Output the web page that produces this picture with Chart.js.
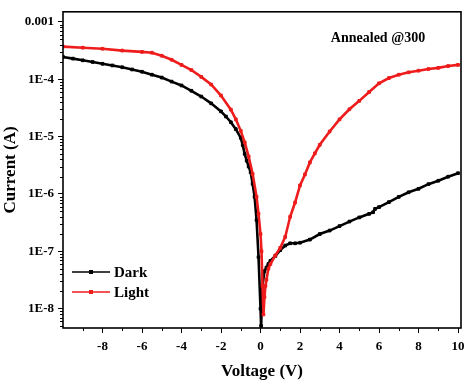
<!DOCTYPE html>
<html>
<head>
<meta charset="utf-8">
<script src="https://cdn.jsdelivr.net/npm/chart.js@4"></script>
<style>
  html, body { margin: 0; padding: 0; background: #fff; }
</style>
</head>
<body>
<canvas id="myChart" width="474" height="386"></canvas>
<script>
// ======= DATA ==========
const darkVoltage = [-10, -9.5, -9, -8.5, -8, -7.5, -7, -6.5, -6, -5.5, -5, -4.5, -4, -3.5, -3, -2.5, -2, -1.75, -1.5, -1.25,
  -1, -0.9, -0.8, -0.7, -0.6, -0.5, -0.4, -0.3, -0.2, -0.1, 0, 0.03, 0.1, 0.2, 0.3, 0.4, 0.5, 0.75,
  1, 1.25, 1.5, 1.75, 2, 2.5, 3, 3.5, 4, 4.5, 5, 5.5, 5.7, 5.8, 6, 6.5, 7, 7.5, 8, 8.5, 9, 9.5, 10];
const darkCurrent = [2.45e-4, 2.29e-4, 2.14e-4, 2.0e-4, 1.86e-4, 1.74e-4, 1.62e-4, 1.48e-4, 1.35e-4, 1.2e-4, 1.07e-4, 9.1e-5, 7.8e-5, 6.3e-5, 5.0e-5, 3.8e-5, 2.75e-5, 2.24e-5, 1.78e-5, 1.35e-5,
  9.5e-6, 7.1e-6, 5.0e-6, 3.8e-6, 3.0e-6, 2.4e-6, 1.5e-6, 8.9e-7, 3.5e-7, 7.9e-8, 1.0e-8, 5.0e-9, 2.5e-8, 4.5e-8, 5.2e-8, 6.0e-8, 6.8e-8, 8.3e-8,
  1.05e-7, 1.26e-7, 1.38e-7, 1.38e-7, 1.41e-7, 1.6e-7, 2.0e-7, 2.3e-7, 2.75e-7, 3.3e-7, 3.9e-7, 4.5e-7, 4.8e-7, 5.5e-7, 5.9e-7, 7.2e-7, 8.9e-7, 1.07e-6, 1.23e-6, 1.48e-6, 1.7e-6, 2.0e-6, 2.3e-6];

const lightVoltage = [-10, -9, -8, -7, -6, -5.5, -5, -4.5, -4, -3.5, -3, -2.5, -2, -1.5, -1.25, -1, -0.8, -0.6, -0.4, -0.2, -0.1,
  0, 0.05, 0.1, 0.15, 0.2, 0.25, 0.3, 0.4, 0.5, 0.75, 1, 1.25, 1.5, 1.75, 2, 2.25, 2.5, 2.75, 3, 3.5,
  4, 4.5, 5, 5.5, 6, 6.5, 7, 7.5, 8, 8.5, 9, 9.5, 10];
const lightCurrent = [3.7e-4, 3.55e-4, 3.4e-4, 3.16e-4, 3.0e-4, 2.9e-4, 2.57e-4, 2.19e-4, 1.78e-4, 1.45e-4, 1.1e-4, 8.1e-5, 5.2e-5, 2.95e-5, 2.0e-5, 1.26e-5, 7.9e-6, 4.5e-6, 2.24e-6, 8.9e-7, 4.5e-7,
  2.0e-7, 1.0e-7, 2.5e-8, 7.9e-9, 1.6e-8, 2.5e-8, 3.2e-8, 5.0e-8, 6.0e-8, 8.5e-8, 1.15e-7, 1.78e-7, 4.0e-7, 7.1e-7, 1.41e-6, 2.19e-6, 3.55e-6, 5.1e-6, 7.2e-6, 1.23e-5,
  2.0e-5, 3.0e-5, 4.2e-5, 6.0e-5, 8.5e-5, 1.05e-4, 1.2e-4, 1.32e-4, 1.41e-4, 1.51e-4, 1.58e-4, 1.7e-4, 1.78e-4];

const yTickValues = [1e-8, 1e-7, 1e-6, 1e-5, 1e-4, 1e-3];
const yTickLabels = ["1E-8", "1E-7", "1E-6", "1E-5", "1E-4", "0.001"];
const xTickValues = [-8, -6, -4, -2, 0, 2, 4, 6, 8, 10];

const FONT = "'Liberation Serif', 'Times New Roman', serif";
const RED = "#ee1c1c";

function toPoints(xs, ys) {
  return xs.map((x, i) => ({ x: x, y: ys[i] }));
}

// ======= FRAME, MINOR TICKS, LEGEND, NOTE ==========
const decorations = {
  id: "decorations",
  afterDraw(chart) {
    const ctx = chart.ctx;
    const a = chart.chartArea;
    const x = chart.scales.x;
    const y = chart.scales.y;
    ctx.save();
    ctx.strokeStyle = "#000";
    ctx.lineWidth = 1;
    ctx.beginPath();
    for (let e = -9; e <= -3; e++) {
      for (let m = 2; m <= 9; m++) {
        const v = m * Math.pow(10, e);
        if (v < y.min || v > y.max) continue;
        const py = Math.round(y.getPixelForValue(v)) + 0.5;
        ctx.moveTo(a.left - 3, py);
        ctx.lineTo(a.left, py);
      }
    }
    for (let v = -9; v <= 9; v += 2) {
      const px = Math.round(x.getPixelForValue(v)) + 0.5;
      ctx.moveTo(px, a.bottom);
      ctx.lineTo(px, a.bottom + 3);
    }
    ctx.stroke();

    ctx.lineWidth = 1.6;
    ctx.strokeRect(a.left, a.top, a.right - a.left, a.bottom - a.top);

    // legend
    const order = [1, 0];
    order.forEach(function(idx, row) {
      const ds = chart.data.datasets[idx];
      const ly = a.bottom - 56 + row * 20;
      ctx.strokeStyle = ds.borderColor;
      ctx.lineWidth = 1.6;
      ctx.beginPath();
      ctx.moveTo(a.left + 9, ly);
      ctx.lineTo(a.left + 47, ly);
      ctx.stroke();
      ctx.fillStyle = ds.borderColor;
      ctx.fillRect(a.left + 26, ly - 2, 4, 4);
      ctx.fillStyle = "#000";
      ctx.font = "bold 15px " + FONT;
      ctx.textBaseline = "middle";
      ctx.textAlign = "left";
      ctx.fillText(ds.label, a.left + 51, ly + 1);
    });

    ctx.font = "bold 14px " + FONT;
    ctx.textAlign = "center";
    ctx.textBaseline = "middle";
    ctx.fillStyle = "#000";
    ctx.fillText("Annealed @300", a.right - 83, a.top + 27);
    ctx.restore();
  }
};

// ======= CHART ==========
const ctx = document.getElementById("myChart").getContext("2d");

const chart = new Chart(ctx, {
  type: "line",
  data: {
    datasets: [
      {
        label: "Light",
        data: toPoints(lightVoltage, lightCurrent),
        borderColor: RED,
        backgroundColor: RED,
        borderWidth: 2.6,
        pointStyle: "rect",
        pointRadius: 1.9,
        pointBorderWidth: 1,
        order: 0
      },
      {
        label: "Dark",
        data: toPoints(darkVoltage, darkCurrent),
        borderColor: "#000",
        backgroundColor: "#000",
        borderWidth: 2.6,
        pointStyle: "rect",
        pointRadius: 1.9,
        pointBorderWidth: 1,
        order: 1
      }
    ]
  },
  options: {
    responsive: false,
    animation: false,
    layout: { padding: { left: 0, top: 10, right: 13, bottom: 0 } },
    plugins: {
      legend: { display: false },
      tooltip: { enabled: false }
    },
    scales: {
      x: {
        type: "linear",
        min: -10,
        max: 10.15,
        afterBuildTicks(scale) {
          scale.ticks = xTickValues.map(v => ({ value: v }));
        },
        afterFit(scale) {
          scale.height = 58;
        },
        border: { display: false },
        grid: { drawOnChartArea: false, tickLength: 5, color: "#000", lineWidth: 1 },
        ticks: {
          color: "#000",
          padding: 6,
          maxRotation: 0,
          font: { family: FONT, size: 13, weight: "bold" },
          callback: v => v
        },
        title: {
          display: true,
          text: "Voltage (V)",
          color: "#000",
          font: { family: FONT, size: 17, weight: "bold" },
          padding: { top: 0, bottom: 4 }
        }
      },
      y: {
        type: "logarithmic",
        min: 4.6e-9,
        max: 1.5e-3,
        afterBuildTicks(scale) {
          scale.ticks = yTickValues.map(v => ({ value: v }));
        },
        afterFit(scale) {
          scale.width = 63;
        },
        border: { display: false },
        grid: { drawOnChartArea: false, tickLength: 5, color: "#000", lineWidth: 1 },
        ticks: {
          color: "#000",
          padding: 4,
          font: { family: FONT, size: 13, weight: "bold" },
          callback: (v, i) => yTickLabels[i]
        },
        title: {
          display: true,
          text: "Current (A)",
          color: "#000",
          font: { family: FONT, size: 17, weight: "bold" },
          padding: { top: 0, bottom: 0 }
        }
      }
    }
  },
  plugins: [decorations]
});
</script>
</body>
</html>
